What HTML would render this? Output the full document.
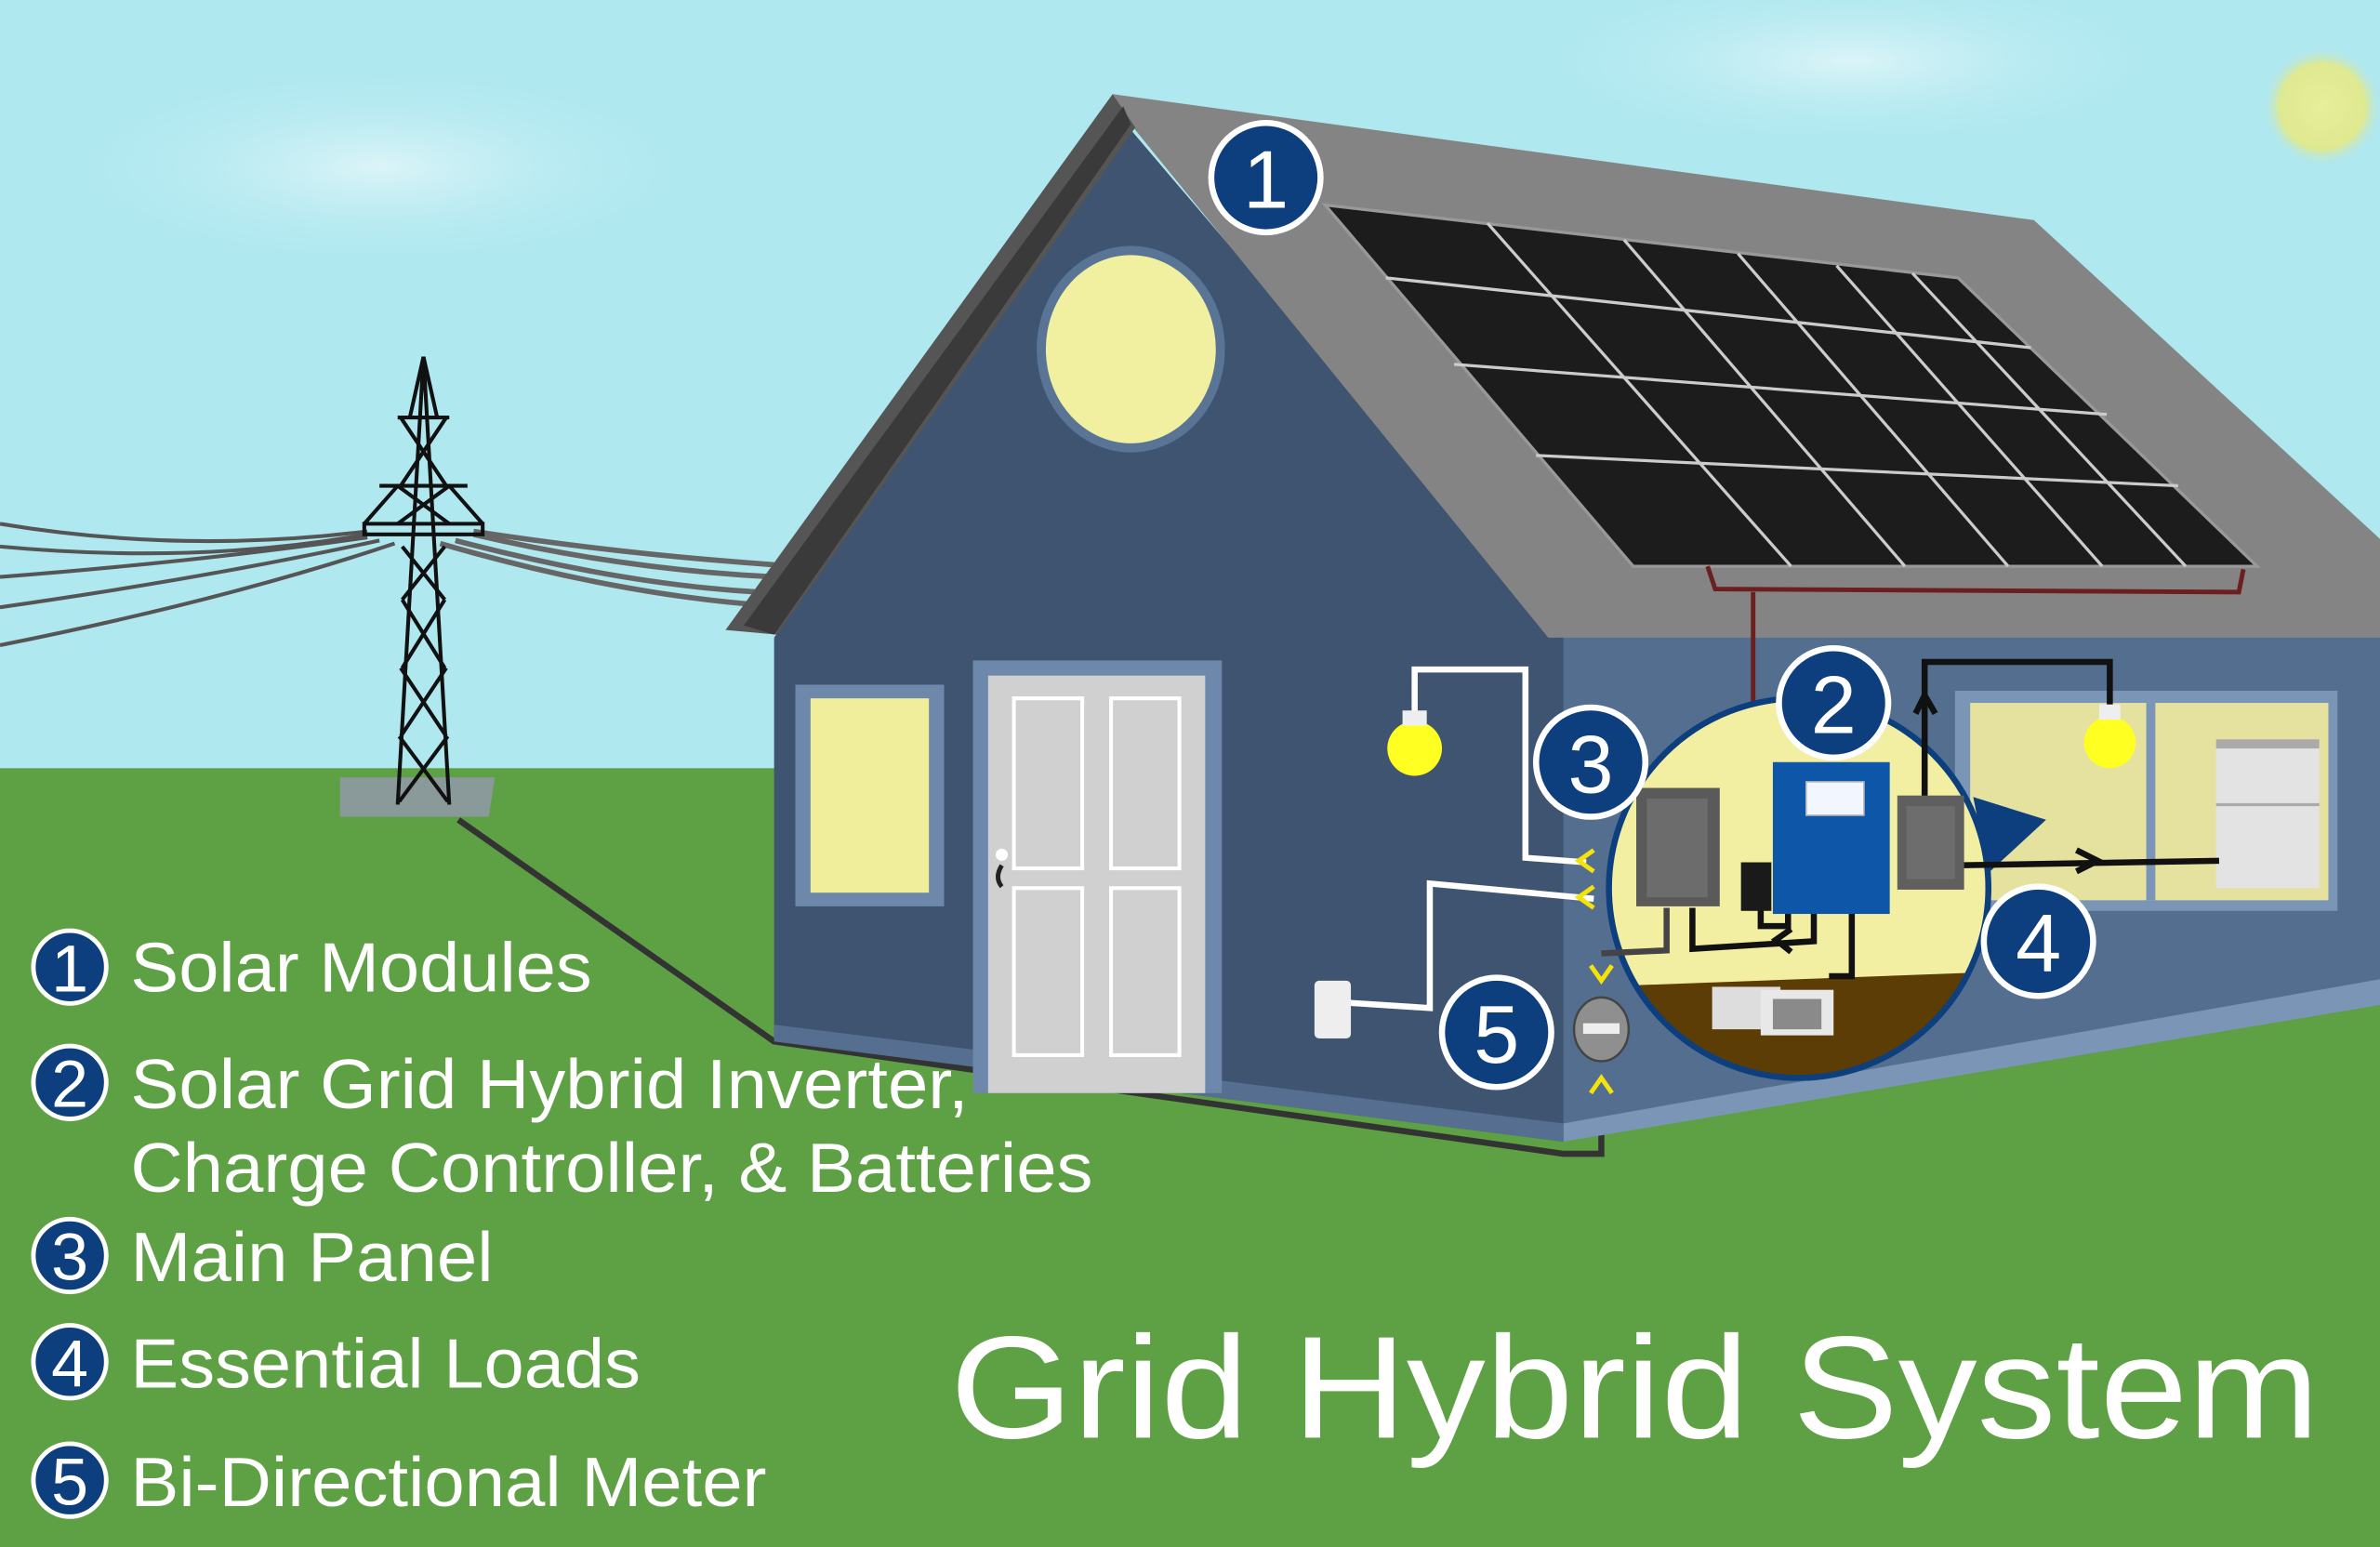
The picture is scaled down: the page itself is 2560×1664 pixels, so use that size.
<!DOCTYPE html>
<html><head><meta charset="utf-8"><style>
html,body{margin:0;padding:0;overflow:hidden;background:#5ea044}
svg{display:block}
text{font-family:"Liberation Sans",sans-serif}
</style></head><body>
<svg width="2560" height="1664" viewBox="0 0 1568 1019" preserveAspectRatio="none" xmlns="http://www.w3.org/2000/svg">
<defs>
<radialGradient id="cl"><stop offset="0" stop-color="#e6f8fa" stop-opacity=".8"/><stop offset="1" stop-color="#b0e8f0" stop-opacity="0"/></radialGradient>
<radialGradient id="sun"><stop offset="0" stop-color="#e8ee9a"/><stop offset=".7" stop-color="#dfe990"/><stop offset="1" stop-color="#b0e8f0" stop-opacity="0"/></radialGradient>
<clipPath id="circ"><ellipse cx="1185" cy="585" rx="125" ry="125"/></clipPath>
</defs>
<rect width="1568" height="1019" fill="#5ea044"/>
<rect width="1568" height="506" fill="#b0e8f0"/>
<ellipse cx="250" cy="110" rx="220" ry="70" fill="url(#cl)"/>
<ellipse cx="1220" cy="40" rx="220" ry="60" fill="url(#cl)"/>
<circle cx="1530" cy="70" r="40" fill="url(#sun)"/>
<g stroke="#555" stroke-width="2.5" fill="none">
<path d="M0 345 Q120 365 242 350"/><path d="M0 360 Q130 372 242 352"/><path d="M0 380 Q130 370 242 354"/><path d="M0 400 Q140 380 250 356"/><path d="M0 425 Q150 395 260 358"/>
</g>
<g stroke="#666" stroke-width="3.5" fill="none">
<path d="M312 350 Q410 365 510 372"/><path d="M312 352 Q410 375 510 380"/><path d="M300 356 Q410 385 500 390"/><path d="M290 358 Q400 390 495 398"/>
</g>
<polygon points="224,512 326,512 322,538 224,538" fill="#8a9a9a"/>
<g stroke="#111" stroke-width="2.5" fill="none">
<path d="M279 235 L262 530 M279 235 L296 530 M262 275 L296 275 M240 345 L318 345 L318 352 L240 352 Z M250 320 L308 320"/>
<path d="M264 275 L294 320 M294 275 L264 320 M262 320 L296 345 M296 320 L262 345 M240 345 L262 320 M318 345 L296 320"/>
<path d="M265 360 L293 395 M293 360 L265 395 M265 395 L293 440 M293 395 L265 440 M264 440 L294 485 M294 440 L264 485 M263 485 L295 528 M295 485 L263 528"/>
<path d="M279 235 L270 275 M279 235 L288 275"/>
</g>
<path d="M302 540 L510 686 L1030 760 L1055 760 L1055 640 L1062 620" stroke="#333" stroke-width="4" fill="none"/>
<polygon points="1025,415 1568,415 1568,655 1030,750" fill="#536e8f"/>
<polygon points="1030,740 1568,645 1568,662 1030,752" fill="#7a95b5"/>
<polygon points="1288,455 1540,455 1540,600 1288,600" fill="#7a95b5"/>
<rect x="1298" y="463" width="236" height="130" fill="#e5e2a0"/>
<rect x="1414" y="463" width="6" height="130" fill="#7a95b5"/>
<rect x="1460" y="487" width="68" height="98" fill="#e3e3e3"/><rect x="1460" y="487" width="68" height="6" fill="#aaa"/><line x1="1460" y1="530" x2="1528" y2="530" stroke="#aaa" stroke-width="2"/>
<polygon points="510,420 742,82 1030,420 1030,752 510,686" fill="#3f5470"/>
<polygon points="510,675 1030,740 1030,752 510,686" fill="#566f90"/>
<polygon points="733,62 1340,145 1568,355 1568,420 1020,420 745,82" fill="#848484"/>
<polygon points="478,415 733,62 748,84 512,418" fill="#555"/>
<polygon points="490,412 740,70 745,82 510,418" fill="#3a3a3a"/>
<polygon points="873,135 1290,183 1487,373 1076,373" fill="#1c1c1c" stroke="#999" stroke-width="2"/>
<g stroke="#ccc" stroke-width="2">
<line x1="913" y1="183" x2="1338" y2="229"/><line x1="958" y1="240" x2="1388" y2="273"/><line x1="1012" y1="300" x2="1435" y2="320"/>
<line x1="980" y1="147" x2="1180" y2="373"/><line x1="1070" y1="158" x2="1255" y2="373"/><line x1="1145" y1="167" x2="1323" y2="373"/><line x1="1210" y1="175" x2="1385" y2="373"/><line x1="1260" y1="180" x2="1440" y2="373"/>
</g>
<path d="M1125 373 L1130 388 L1475 390 L1478 375" stroke="#6b1f1f" stroke-width="3" fill="none"/>
<path d="M1155 390 L1155 580" stroke="#6b1f1f" stroke-width="3"/>
<ellipse cx="745" cy="230" rx="62" ry="68" fill="#5a7496"/>
<ellipse cx="745" cy="230" rx="56" ry="62" fill="#f0f0a0"/>
<rect x="524" y="451" width="98" height="146" fill="#6d88aa"/>
<rect x="534" y="460" width="78" height="128" fill="#f0ee9a"/>
<rect x="641" y="435" width="164" height="285" fill="#6d88aa"/>
<rect x="651" y="445" width="143" height="275" fill="#d0d0d0"/>
<g fill="none" stroke="#fff" stroke-width="2.5"><rect x="668" y="460" width="45" height="112"/><rect x="732" y="460" width="45" height="112"/><rect x="668" y="585" width="45" height="110"/><rect x="732" y="585" width="45" height="110"/></g>
<circle cx="660" cy="563" r="4" fill="#fff"/><path d="M660 570 q-5 8 0 14" stroke="#222" stroke-width="3" fill="none"/>
<path d="M932 470 L932 441 L1005 441 L1005 565 L1045 568" stroke="#fff" stroke-width="4" fill="none"/>
<path d="M880 660 L942 664 L942 582 L1050 592" stroke="#fff" stroke-width="4" fill="none"/>
<circle cx="932" cy="493" r="18" fill="#ffff22"/>
<rect x="924" y="468" width="16" height="10" fill="#eee"/>
<rect x="866" y="646" width="24" height="38" rx="3" fill="#eee"/>
<g clip-path="url(#circ)">
<rect x="1050" y="450" width="270" height="270" fill="#f2eea2"/>
<polygon points="1050,650 1320,640 1320,720 1050,720" fill="#5c3d05"/>
</g>
<ellipse cx="1185" cy="585" rx="125" ry="125" fill="none" stroke="#0d3f7e" stroke-width="4"/>
<polygon points="1300,525 1348,540 1310,575" fill="#0d3f7e"/>
<g stroke="#111" stroke-width="4" fill="none">
<path d="M1268 525 L1268 436 L1390 436 L1390 470"/><path d="M1262 470 L1268 458 L1275 470"/>
<path d="M1290 570 L1462 567"/><path d="M1368 560 L1382 567 L1368 574"/>
<path d="M1115 598 L1115 625 L1195 620 L1195 595"/><path d="M1180 612 L1170 619 L1180 627"/>
<path d="M1160 595 L1160 610 L1178 610 L1178 595"/>
<path d="M1220 600 L1220 643 L1205 643"/>
</g>
<path d="M1098 598 L1098 626 L1055 628" stroke="#444" stroke-width="4" fill="none"/>
<rect x="1078" y="519" width="55" height="78" fill="#5a5a5a"/><rect x="1085" y="526" width="40" height="65" fill="#6c6c6c"/>
<rect x="1147" y="568" width="20" height="32" fill="#1a1a1a"/>
<rect x="1168" y="502" width="77" height="100" fill="#0d56a8"/><rect x="1190" y="515" width="38" height="22" fill="#f2f6ff" stroke="#bbb"/>
<rect x="1250" y="524" width="44" height="62" fill="#5f5f5f"/><rect x="1256" y="531" width="32" height="48" fill="#6d6d6d"/>
<rect x="1128" y="650" width="45" height="28" fill="#ddd"/><rect x="1160" y="652" width="48" height="30" fill="#e8e8e8"/><rect x="1168" y="658" width="32" height="20" fill="#8a8a8a"/>
<g stroke="#f4e20a" stroke-width="3" fill="none">
<path d="M1050 560 L1040 567 L1050 574"/><path d="M1050 584 L1040 591 L1050 598"/>
<path d="M1048 636 L1055 646 L1062 636"/><path d="M1048 720 L1055 710 L1062 720"/>
</g>
<ellipse cx="1055" cy="678" rx="18" ry="21" fill="#8f8f8f" stroke="#444" stroke-width="1.5"/>
<rect x="1043" y="674" width="24" height="7" fill="#eee"/>
<circle cx="1390" cy="489" r="17" fill="#ffff22"/><rect x="1383" y="464" width="14" height="10" fill="#eee"/>
<g font-size="54" text-anchor="middle" fill="#fff">
<circle cx="834" cy="117" r="36" fill="#0d3f7e" stroke="#fff" stroke-width="4"/><text x="834" y="137">1</text>
<circle cx="1208" cy="463" r="36" fill="#0d3f7e" stroke="#fff" stroke-width="4"/><text x="1208" y="483">2</text>
<circle cx="1048" cy="502" r="36" fill="#0d3f7e" stroke="#fff" stroke-width="4"/><text x="1048" y="522">3</text>
<circle cx="1343" cy="620" r="36" fill="#0d3f7e" stroke="#fff" stroke-width="4"/><text x="1343" y="640">4</text>
<circle cx="986" cy="680" r="36" fill="#0d3f7e" stroke="#fff" stroke-width="4"/><text x="986" y="700">5</text>
</g>
<g font-size="44" text-anchor="middle" fill="#fff">
<circle cx="46" cy="637" r="24" fill="#0d3f7e" stroke="#fff" stroke-width="3"/><text x="46" y="653">1</text>
<circle cx="46" cy="713" r="24" fill="#0d3f7e" stroke="#fff" stroke-width="3"/><text x="46" y="729">2</text>
<circle cx="46" cy="827" r="24" fill="#0d3f7e" stroke="#fff" stroke-width="3"/><text x="46" y="843">3</text>
<circle cx="46" cy="897" r="24" fill="#0d3f7e" stroke="#fff" stroke-width="3"/><text x="46" y="913">4</text>
<circle cx="46" cy="975" r="24" fill="#0d3f7e" stroke="#fff" stroke-width="3"/><text x="46" y="991">5</text>
</g>
<g font-size="46" fill="#fff" lengthAdjust="spacingAndGlyphs">
<text x="86" y="653" textLength="304" lengthAdjust="spacingAndGlyphs">Solar Modules</text>
<text x="86" y="730" textLength="552" lengthAdjust="spacingAndGlyphs">Solar Grid Hybrid Inverter,</text>
<text x="86" y="785" textLength="634" lengthAdjust="spacingAndGlyphs">Charge Controller, &amp; Batteries</text>
<text x="86" y="844" textLength="239" lengthAdjust="spacingAndGlyphs">Main Panel</text>
<text x="86" y="914" textLength="336" lengthAdjust="spacingAndGlyphs">Essential Loads</text>
<text x="86" y="992" textLength="419" lengthAdjust="spacingAndGlyphs">Bi-Directional Meter</text>
</g>
<text x="626" y="947" font-size="96" fill="#fff" textLength="902" lengthAdjust="spacingAndGlyphs">Grid Hybrid System</text>
</svg>
</body></html>
